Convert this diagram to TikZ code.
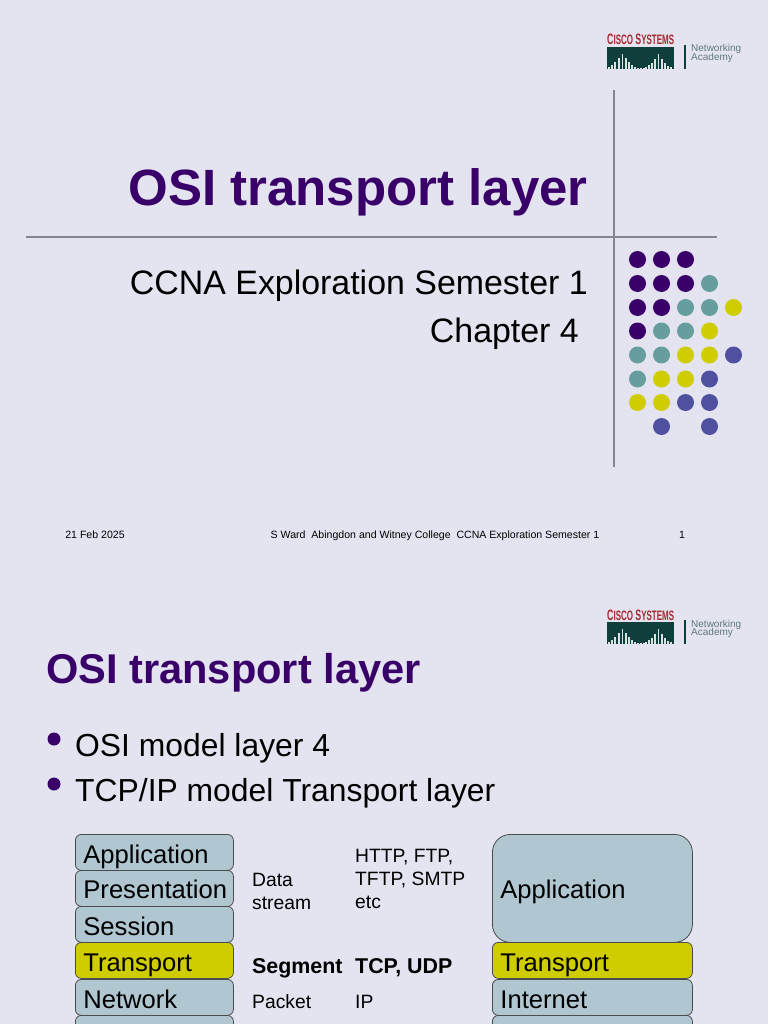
\documentclass[tikz,border=0pt]{standalone}
\usepackage{fontspec}
\usepackage{graphicx}
\setmainfont{Liberation Sans}
\definecolor{slidebg}{HTML}{E4E4F1}
\definecolor{titlepurple}{HTML}{380068}
\definecolor{dotteal}{HTML}{669E9E}
\definecolor{dotyellow}{HTML}{CFCC00}
\definecolor{dotblue}{HTML}{5050A0}
\definecolor{layerblue}{HTML}{B0C6D0}
\definecolor{rulegrey}{HTML}{85858F}
\definecolor{logogreen}{HTML}{0F3F3C}
\definecolor{logored}{HTML}{A52A30}
\definecolor{logogrey}{HTML}{5F7A78}
\newcommand{\sz}[1]{\fontsize{#1}{#1}\selectfont}
\tikzset{
	x=1pt,y=-1pt,
	layer/.style={draw=black!70,line width=0.8pt,rounded corners=6pt,fill=layerblue,inner xsep=0pt,inner ysep=0pt,anchor=north west,align=left,text height=29pt,text depth=7pt,font=\sz{25.6},execute at begin node=\hspace*{8pt}},
	leftlayer/.style={layer,text width=158pt},
	rightlayer/.style={layer,text width=200pt},
	hilite/.style={fill=dotyellow},
	small/.style={anchor=base west,inner sep=0pt,font=\sz{19.3},align=left},
	dot/.style={circle,inner sep=0pt,minimum size=17pt},
	foot/.style={anchor=base,inner sep=0pt,font=\sz{10.57}},
	bullettext/.style={anchor=base west,inner sep=0pt,font=\sz{31.85}},
	bulletdot/.style={circle,fill=titlepurple,inner sep=0pt,minimum size=13pt},
	ciscologo/.pic={
		\node[anchor=base west,inner sep=0pt,text=logored,font=\bfseries] (brand) at (607,45) {\resizebox{67pt}{10.5pt}{{\sz{11}C}ISCO {\sz{11}S}YSTEMS}};
		\fill[logogreen] (607,47) rectangle (674,69);
		\foreach \x/\h in {609/2,612/4,615/7,619/11,622.7/15,626/11,629/7,632/4,635/2,638/1,641/1,644/1,646/2,649/4,652/6,655/10,658.7/15,662/10,665/6,668/3,671/2}
			\fill[white!85!logogreen] (\x-0.7,69) rectangle (\x+0.7,69-\h);
		\draw[logogreen,line width=1.6pt] (685,45) -- (685,69);
		\node[anchor=base west,inner sep=0pt,text=logogrey,font=\sz{10}] (net) at (691,52) {Networking};
		\node[anchor=base west,inner sep=0pt,text=logogrey,font=\sz{10}] (acad) at (691,60.5) {Academy};
	}
}
\begin{document}
\begin{tikzpicture}
	\clip (0,0) rectangle (768,1024);
	\fill[slidebg] (0,0) rectangle (768,1024);
	\pic[name prefix=a] at (0,0) {ciscologo};
	\pic[name prefix=b] at (0,575) {ciscologo};
	\draw[rulegrey,line width=1.1pt] (614,90) coordinate (V1) -- (614,467) coordinate (V2);
	\draw[rulegrey,line width=1.1pt] (26,237) coordinate (H1) -- (717,237) coordinate (H2);
	\foreach \y/\row in {259.5/{titlepurple,titlepurple,titlepurple},283.5/{titlepurple,titlepurple,titlepurple,dotteal},307.5/{titlepurple,titlepurple,dotteal,dotteal,dotyellow},331/{titlepurple,dotteal,dotteal,dotyellow},355/{dotteal,dotteal,dotyellow,dotyellow,dotblue},379/{dotteal,dotyellow,dotyellow,dotblue},402.5/{dotyellow,dotyellow,dotblue,dotblue},426.5/{slidebg,dotblue,slidebg,dotblue}}
		\foreach \c [count=\i from 0] in \row
			\node[dot,fill=\c] at (637.5+24*\i,\y) {};
	\node[anchor=base east,inner sep=0pt,text=titlepurple,font=\sz{51}\bfseries] (title) at (588,206) {OSI transport layer};
	\node[anchor=base east,inner sep=0pt,font=\sz{33.9}] (sub1) at (588,294) {CCNA Exploration Semester 1};
	\node[anchor=base east,inner sep=0pt,font=\sz{33.9}] (sub2) at (579,342) {Chapter 4};
	\node[foot] (date) at (95,538.5) {21 Feb 2025};
	\node[foot] (college) at (435,538) {S Ward\ \ Abingdon and Witney College\ \ CCNA Exploration Semester 1};
	\node[foot] (page) at (682,538) {1};
	\node[anchor=base west,inner sep=0pt,text=titlepurple,font=\sz{41.6}\bfseries] (title2) at (46,683) {OSI transport layer};
	\node[bulletdot] (b1) at (54,739) {};
	\node[bullettext] (t1) at (75,756) {OSI model layer 4};
	\node[bulletdot] (b2) at (54,784) {};
	\node[bullettext] (t2) at (75,801) {TCP/IP model Transport layer};
	\node[leftlayer] (app) at (75,834) {Application};
	\node[leftlayer,text depth=8pt,text height=28pt] (pres) at (75,870) {Presentation};
	\node[leftlayer] (sess) at (75,906) {Session};
	\node[leftlayer,hilite] (trans) at (75,942) {Transport};
	\node[leftlayer] (netw) at (75,979) {Network};
	\node[leftlayer] (link) at (75,1015) {};
	\node[small] (data) at (252,909) {Data\\[3.7pt]stream};
	\node[small,font=\sz{21.4}\bfseries] (seg) at (252,973) {Segment};
	\node[small] (pkt) at (252,1008) {Packet};
	\node[small] (http) at (355,908.5) {HTTP, FTP,\\[3.7pt]TFTP, SMTP\\[3.7pt]etc};
	\node[small,font=\sz{21.4}\bfseries] (tcp) at (355,973) {TCP, UDP};
	\node[small] (ip) at (355,1008) {IP};
	\node[rightlayer,rounded corners=18pt,text height=64pt,text depth=44pt] (rapp) at (492,834) {Application};
	\node[rightlayer,hilite] (rtrans) at (492,942) {Transport};
	\node[rightlayer] (rint) at (492,979) {Internet};
	\node[rightlayer] (rlink) at (492,1015) {};
\end{tikzpicture}
\end{document}
